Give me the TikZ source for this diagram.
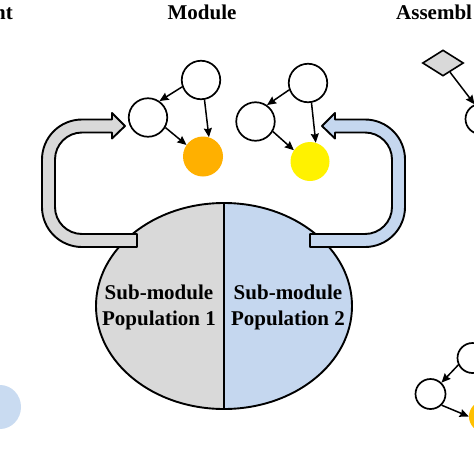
\documentclass[tikz,border=0pt]{standalone}
\usepackage{fontspec}
\setmainfont{Liberation Serif}
\usetikzlibrary{shapes.geometric,arrows.meta}
\definecolor{popgray}{RGB}{217,217,217}
\definecolor{popblue}{RGB}{197,215,239}
\definecolor{outorange}{RGB}{255,176,0}
\definecolor{outyellow}{RGB}{255,242,0}
\definecolor{outgold}{RGB}{255,192,0}
\definecolor{fadeblue}{RGB}{201,219,241}
\tikzset{
  netnode/.style={circle, draw, line width=1.7pt, minimum size=38.5pt, inner sep=0pt, fill=white},
  smallnode/.style={circle, draw, line width=1.7pt, minimum size=30pt, inner sep=0pt, fill=white},
  outnode/.style={circle, minimum size=40pt, inner sep=0pt},
  smallout/.style={circle, minimum size=31.5pt, inner sep=0pt},
  edgearrow/.style={line width=1.5pt, -{Stealth[length=9pt,width=8pt,inset=1pt]}},
  titletext/.style={font=\fontsize{21}{25}\selectfont\bfseries, inner sep=0pt},
  poptext/.style={font=\fontsize{21}{26}\selectfont\bfseries, align=center, inner sep=0pt},
  modarrow/.pic={
    \path[pic actions, draw, line width=1.9pt, line join=round]
      (137,234) -- (82,234) .. controls (67.1,234) and (55,221.9) .. (55,207)
      -- (55,159.5) .. controls (55,144.6) and (67.1,132.5) .. (82,132.5)
      -- (112,132.5) -- (112,138.5) -- (125,126) -- (112,113) -- (112,119.5)
      -- (82,119.5) .. controls (59.9,119.5) and (42,137.4) .. (42,159.5)
      -- (42,207) .. controls (42,229.1) and (59.9,247) .. (82,247)
      -- (137,247) -- cycle;
  }
}
\begin{document}
\begin{tikzpicture}[x=1pt, y=-1pt]
\useasboundingbox (0,0) rectangle (474,474);
\fill[white] (0,0) rectangle (474,474);

% titles
\node[titletext, anchor=base east] (tleft) at (13,19) {nt};
\node[titletext, anchor=base] (tmod) at (202,19) {Module};
\node[titletext, anchor=base west] (tright) at (396,19) {Assembl};

% population ellipse
\node[ellipse, draw, line width=1.9pt, minimum width=256pt, minimum height=206pt, inner sep=0pt,
  path picture={
    \fill[popgray] (path picture bounding box.north west) rectangle (path picture bounding box.south);
    \fill[popblue] (path picture bounding box.north) rectangle (path picture bounding box.south east);
  }] (pop) at (224,306) {};
\draw[line width=1.7pt] (pop.north) -- (pop.south);
\node[poptext] (pop1) at (159,307) {Sub-module\\Population 1};
\node[poptext] (pop2) at (288,307) {Sub-module\\Population 2};

% curved arrows
\pic[fill=popgray] at (0,0) {modarrow};
\pic[fill=popblue, xscale=-1] at (447,0) {modarrow};

% left network
\node[netnode] (a1) at (201,80) {};
\node[netnode] (a2) at (148,117.5) {};
\node[outnode, fill=outorange] (a3) at (203,156.5) {};
\draw[edgearrow] (a1.200) -- (a2.55);
\draw[edgearrow] (a1.-80) -- (a3.73);
\draw[edgearrow] (a2.-30) -- (a3.145);

% right network
\node[netnode] (b1) at (308,83) {};
\node[netnode] (b2) at (255.5,121.5) {};
\node[outnode, fill=outyellow, minimum size=39pt] (b3) at (310,161.5) {};
\draw[edgearrow] (b1.200) -- (b2.55);
\draw[edgearrow] (b1.-80) -- (b3.73);
\draw[edgearrow] (b2.-30) -- (b3.145);

% top right fragment
\node[diamond, draw, line width=1.6pt, fill=popgray, minimum width=41pt, minimum height=26pt, inner sep=0pt] (dia) at (443,63) {};
\node[smallnode] (c1) at (480.5,119) {};
\draw[edgearrow] (dia) -- (c1.112);

% bottom right fragment
\node[smallnode] (d1) at (472.5,358) {};
\node[smallnode] (d2) at (430.5,394) {};
\node[smallout, fill=outgold] (d3) at (484.7,416.5) {};
\draw[edgearrow] (d1.206) -- (d2.46);
\draw[edgearrow] (d2.-45) -- (d3.180);

% bottom left fragment
\node[ellipse, fill=fadeblue, minimum width=42pt, minimum height=44pt, inner sep=0pt] (e1) at (0,407) {};
\end{tikzpicture}
\end{document}
